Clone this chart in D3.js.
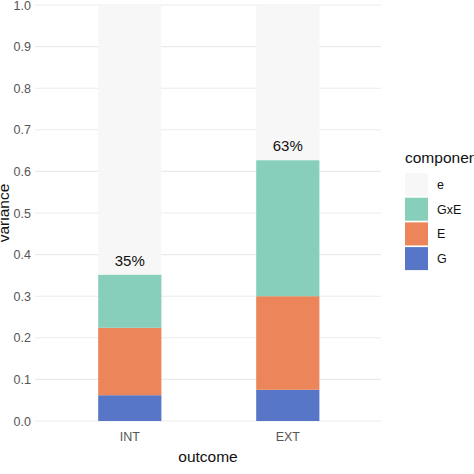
<!DOCTYPE html><html><head><meta charset="utf-8"><script src="https://cdn.jsdelivr.net/npm/d3@7"></script>
<style>body{margin:0;background:#fff}text{font-family:"Liberation Sans",Arial,sans-serif}</style></head><body>
<svg id="c" width="474" height="474"></svg>
<script>
const outcomes=["INT","EXT"];
const components=["G","E","GxE","e"];
const G=[0.062,0.075];
const E=[0.162,0.225];
const GxE=[0.128,0.327];
const totalLabels=["35%","63%"];
const yTicks=[0,0.1,0.2,0.3,0.4,0.5,0.6,0.7,0.8,0.9,1.0];
const colors={G:"#5776c8",E:"#ec8559",GxE:"#88cfbb",e:"#f7f7f7"};
const rows=outcomes.map((o,i)=>({outcome:o,G:G[i],E:E[i],GxE:GxE[i],e:1-G[i]-E[i]-GxE[i]}));
const svg=d3.select("#c");
const x=d3.scaleBand().domain(outcomes).range([35,382.6]).paddingInner(0.6).paddingOuter(0.4);
const y=d3.scaleLinear().domain([0,1]).range([421,5]);
svg.append("g").selectAll("line").data(yTicks).join("line").attr("x1",35).attr("x2",381)
 .attr("y1",d=>y(d)).attr("y2",d=>y(d)).attr("stroke","#ebebeb").attr("stroke-width",1.1);
const stack=d3.stack().keys(components)(rows);
svg.append("g").selectAll("g").data(stack).join("g").attr("fill",d=>colors[d.key])
 .selectAll("rect").data(d=>d).join("rect").attr("x",d=>x(d.data.outcome)).attr("width",x.bandwidth())
 .attr("y",d=>y(d[1])).attr("height",d=>y(d[0])-y(d[1]));
svg.append("g").selectAll("text").data(rows).join("text").attr("x",d=>x(d.outcome)+x.bandwidth()/2)
 .attr("y",(d,i)=>y(d.G+d.E+d.GxE)-9).attr("text-anchor","middle").attr("font-size",15).attr("fill","#111")
 .text((d,i)=>totalLabels[i]);
svg.append("g").selectAll("text").data(yTicks).join("text").attr("x",31).attr("y",d=>y(d)+4.5)
 .attr("text-anchor","end").attr("font-size",12.5).attr("fill","#555").text(d=>d.toFixed(1));
svg.append("g").selectAll("text").data(outcomes).join("text").attr("x",d=>x(d)+x.bandwidth()/2).attr("y",441)
 .attr("text-anchor","middle").attr("font-size",12.5).attr("fill","#555").text(d=>d);
svg.append("text").attr("x",208).attr("y",462).attr("text-anchor","middle").attr("font-size",15.5).attr("fill","#111").text("outcome");
svg.append("text").attr("transform","translate(9,213) rotate(-90)").attr("text-anchor","middle").attr("font-size",15.5).attr("fill","#111").text("variance");
svg.append("text").attr("x",405).attr("y",163).attr("font-size",15.5).attr("fill","#111").text("component");
const leg=["e","GxE","E","G"];
leg.forEach((k,i)=>{
 svg.append("rect").attr("x",405).attr("y",173+i*24.7).attr("width",23).attr("height",23).attr("fill",colors[k]);
 svg.append("text").attr("x",437).attr("y",189+i*24.7).attr("font-size",12.5).attr("fill","#111").text(k);
});
</script></body></html>
